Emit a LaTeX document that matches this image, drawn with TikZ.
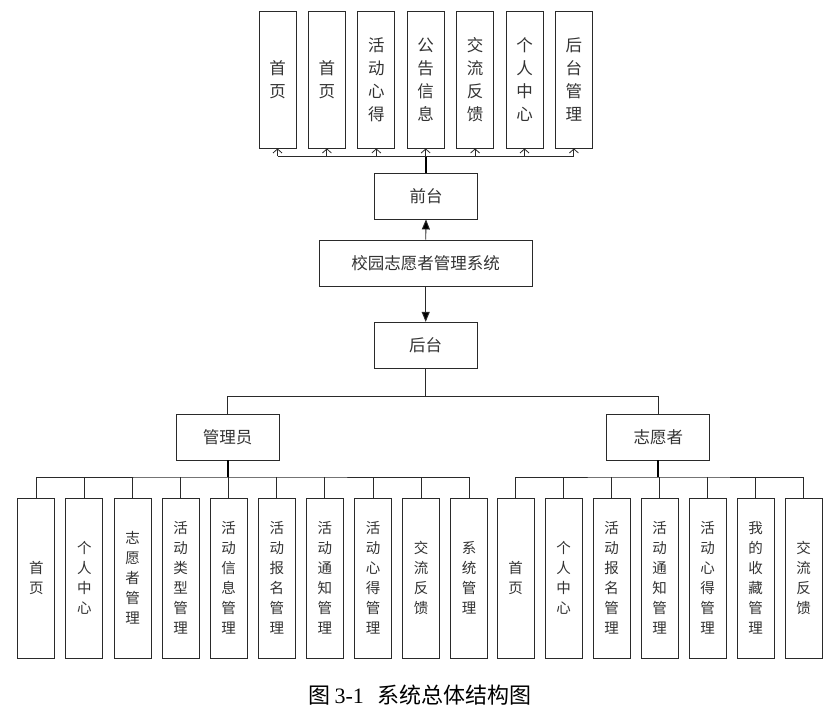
\documentclass[tikz,border=0pt]{standalone}
\usepackage{fontspec}
\setmainfont{Liberation Serif}
\newfontfamily\cjk{Noto Sans CJK SC}
\usetikzlibrary{arrows.meta}
\definecolor{ink}{HTML}{333333}
\definecolor{edge}{HTML}{2A2A2A}
\tikzset{
  boxbase/.style={draw=edge, line width=0.9pt, inner sep=0pt, align=center, text=ink, fill=white},
  topbox/.style={boxbase, minimum width=37pt, minimum height=137pt, font=\cjk\fontsize{16.5}{23}\selectfont},
  midbox/.style={boxbase, minimum width=103pt, minimum height=46pt, font=\cjk\fontsize{16.5}{20}\selectfont},
  sysbox/.style={boxbase, minimum width=213pt, minimum height=46pt, font=\cjk\fontsize{16.5}{20}\selectfont},
  botbox/.style={boxbase, minimum width=37pt, minimum height=160pt, font=\cjk\fontsize{14.5}{20}\selectfont},
  link/.style={draw=edge, line width=0.9pt},
  thick link/.style={draw=black, line width=1.8pt},
  openarrow/.style={link, -{Straight Barb[length=4pt,width=9pt,line width=0.8pt]}},
  fillarrow/.style={link, -{Triangle[length=10pt,width=8pt,fill=black]}},
}
\begin{document}
\begin{tikzpicture}[x=1pt,y=-1pt]
\useasboundingbox[fill=white] (0,0) rectangle (840,717);

% top row
\node[topbox] (t1) at (277.5,79.5) {首\\页};
\node[topbox] (t2) at (326.9,79.5) {首\\页};
\node[topbox] (t3) at (376.3,79.5) {活\\动\\心\\得};
\node[topbox] (t4) at (425.7,79.5) {公\\告\\信\\息};
\node[topbox] (t5) at (475.1,79.5) {交\\流\\反\\馈};
\node[topbox] (t6) at (524.5,79.5) {个\\人\\中\\心};
\node[topbox] (t7) at (573.9,79.5) {后\\台\\管\\理};

% middle
\node[midbox] (qt) at (426,196) {前台};
\node[sysbox] (sys) at (425.7,263) {校园志愿者管理系统};
\node[midbox] (ht) at (425.7,345.3) {后台};
\node[midbox] (gly) at (227.7,437) {管理员};
\node[midbox] (zyz) at (658.3,437) {志愿者};

% admin row
\node[botbox] (a1) at (36.3,578) {首\\页};
\node[botbox] (a2) at (84.4,578) {个\\人\\中\\心};
\node[botbox] (a3) at (132.5,578) {志\\愿\\者\\管\\理};
\node[botbox] (a4) at (180.6,578) {活\\动\\类\\型\\管\\理};
\node[botbox] (a5) at (228.7,578) {活\\动\\信\\息\\管\\理};
\node[botbox] (a6) at (276.8,578) {活\\动\\报\\名\\管\\理};
\node[botbox] (a7) at (324.9,578) {活\\动\\通\\知\\管\\理};
\node[botbox] (a8) at (373.0,578) {活\\动\\心\\得\\管\\理};
\node[botbox] (a9) at (421.1,578) {交\\流\\反\\馈};
\node[botbox] (a10) at (469.2,578) {系\\统\\管\\理};

% volunteer row
\node[botbox] (v1) at (515.7,578) {首\\页};
\node[botbox] (v2) at (563.7,578) {个\\人\\中\\心};
\node[botbox] (v3) at (611.7,578) {活\\动\\报\\名\\管\\理};
\node[botbox] (v4) at (659.7,578) {活\\动\\通\\知\\管\\理};
\node[botbox] (v5) at (707.7,578) {活\\动\\心\\得\\管\\理};
\node[botbox] (v6) at (755.7,578) {我\\的\\收\\藏\\管\\理};
\node[botbox] (v7) at (803.7,578) {交\\流\\反\\馈};

% bus coordinates
\coordinate (topbus) at (426,156);
\coordinate (htbus) at (425.7,396.7);
\coordinate (abus) at (227.7,477);
\coordinate (vbus) at (658.3,477);

% top connectors
\draw[thick link] (qt.north) -- (topbus);
\draw[link] (t1 |- topbus) -- (t7 |- topbus);
\foreach \n in {t1,t2,t3,t4,t5,t6,t7}
  \draw[openarrow] (\n |- topbus) -- (\n.south);

% system arrows
\draw[fillarrow] (sys.north) -- (qt.south);
\draw[fillarrow] (sys.south) -- (ht.north);

% back-end branch
\draw[link] (ht.south) -- (htbus);
\draw[link] (gly.north) |- (htbus) -| (zyz.north);

% admin
\draw[thick link] (gly.south) -- (abus);
\draw[link] (a1.north) |- (abus) -| (a10.north);
\foreach \n in {a2,a3,a4,a5,a6,a7,a8,a9}
  \draw[link] (\n |- abus) -- (\n.north);

% volunteer
\draw[thick link] (zyz.south) -- (vbus);
\draw[link] (v1.north) |- (vbus) -| (v7.north);
\foreach \n in {v2,v3,v4,v5,v6}
  \draw[link] (\n |- vbus) -- (\n.north);

% caption
\node[text=black, font=\fontsize{22}{26}\selectfont, inner sep=0pt] (cap) at (420,695)
  {{\cjk 图}\,3-1\hspace{0.6em}{\cjk 系统总体结构图}};
\end{tikzpicture}
\end{document}
